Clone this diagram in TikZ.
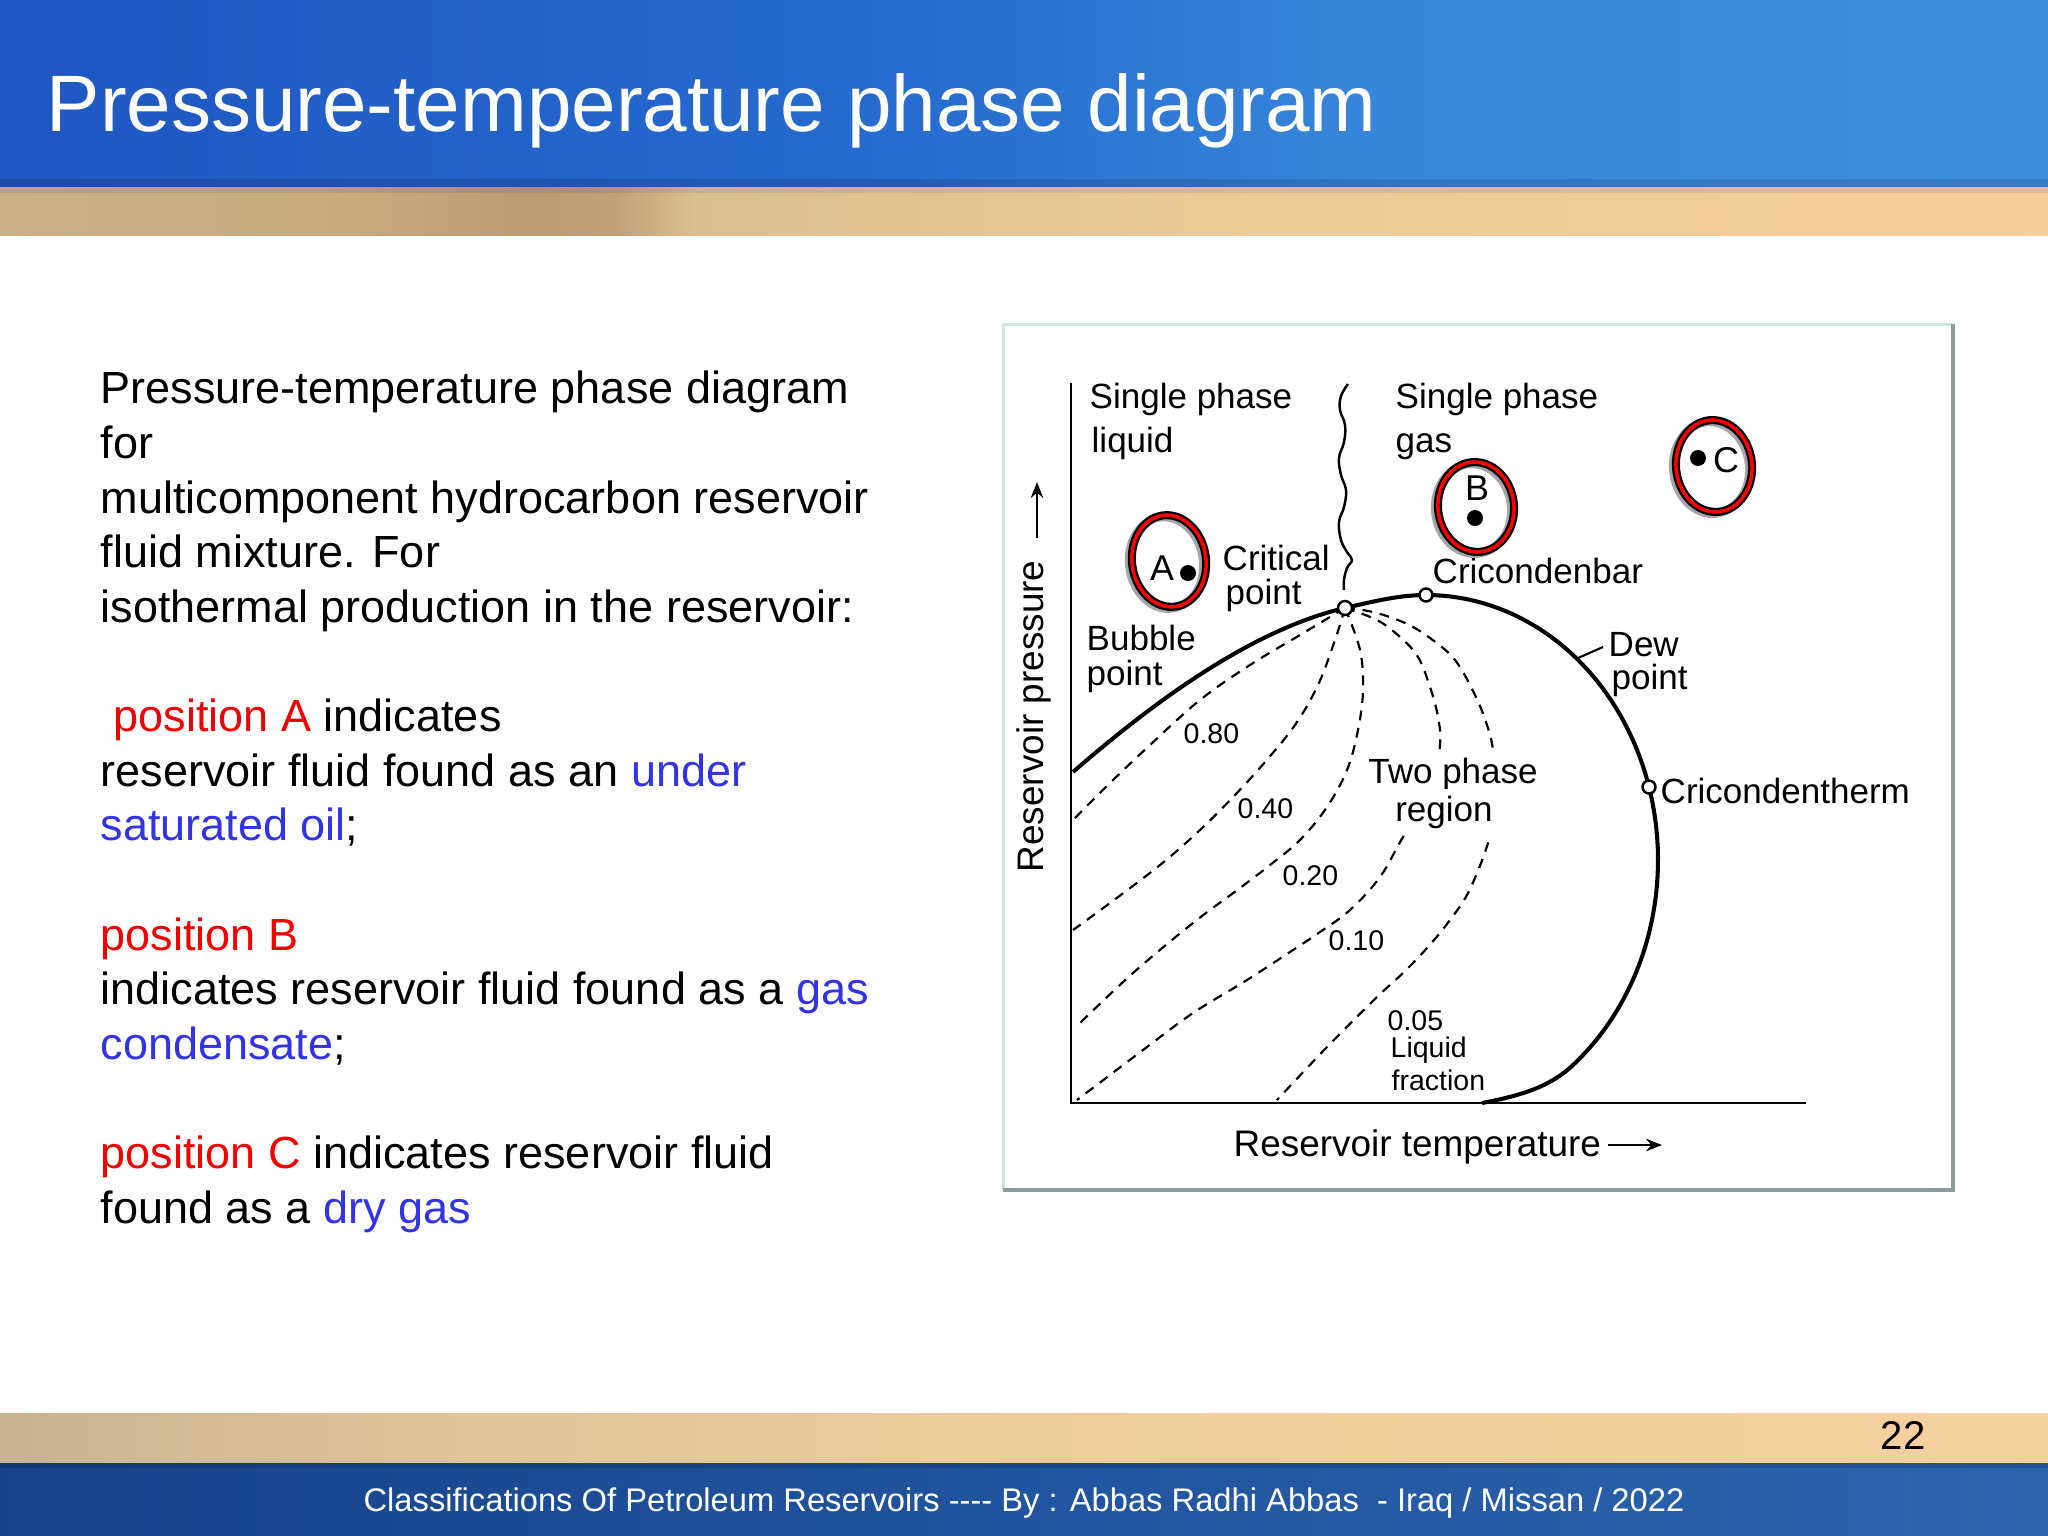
\documentclass[tikz,border=0pt]{standalone}
\usepackage{fontspec}
\setmainfont{Liberation Sans}
\usetikzlibrary{arrows.meta}
\definecolor{posred}{RGB}{240,0,0}
\definecolor{posblue}{RGB}{51,51,230}
\definecolor{framelight}{RGB}{208,228,226}
\definecolor{framedark}{RGB}{140,156,156}
\newcommand{\fsz}[1]{\fontsize{#1}{#1}\selectfont}
% stops are placed in 25bp..75bp, the part of a shading that covers the path
\pgfdeclarehorizontalshading{titlebar}{100bp}{rgb(0bp)=(0.12,0.34,0.76); rgb(25bp)=(0.12,0.34,0.76); rgb(47bp)=(0.15,0.42,0.81); rgb(59bp)=(0.22,0.53,0.86); rgb(75bp)=(0.24,0.56,0.86); rgb(100bp)=(0.24,0.56,0.86)}
\pgfdeclarehorizontalshading{tanband}{100bp}{rgb(0bp)=(0.80,0.69,0.53); rgb(25bp)=(0.80,0.69,0.53); rgb(33bp)=(0.79,0.67,0.50); rgb(38bp)=(0.74,0.61,0.45); rgb(40bp)=(0.76,0.63,0.47); rgb(42bp)=(0.86,0.75,0.57); rgb(55bp)=(0.92,0.79,0.59); rgb(75bp)=(0.96,0.81,0.60); rgb(100bp)=(0.96,0.81,0.60)}
\pgfdeclarehorizontalshading{tanfoot}{100bp}{rgb(0bp)=(0.79,0.70,0.57); rgb(25bp)=(0.79,0.70,0.57); rgb(35bp)=(0.87,0.76,0.60); rgb(50bp)=(0.93,0.80,0.61); rgb(75bp)=(0.96,0.82,0.62); rgb(100bp)=(0.96,0.82,0.62)}
\pgfdeclarehorizontalshading{bluefoot}{100bp}{rgb(0bp)=(0.09,0.26,0.54); rgb(25bp)=(0.09,0.26,0.54); rgb(50bp)=(0.13,0.33,0.62); rgb(75bp)=(0.17,0.40,0.68); rgb(100bp)=(0.17,0.40,0.68)}
\begin{document}
\begin{tikzpicture}[x=0.01cm,y=-0.01cm,
  body/.style={inner sep=0pt, anchor=base west, font=\fsz{12.8pt}},
  lbl/.style={inner sep=0pt, anchor=base west, font=\fsz{9.96pt}},
  num/.style={inner sep=0pt, anchor=base west, font=\fsz{8.1pt}},
  axlbl/.style={inner sep=0pt, anchor=base west, font=\fsz{10.5pt}},
  envelope/.style={line width=1.15pt, line join=round},
  axisline/.style={line width=0.8pt},
  quality/.style={line width=0.62pt, dash pattern=on 2.8pt off 2.2pt},
  opendot/.style={draw, fill=white, line width=0.7pt},
  posmark/.style={line width=1pt, red}]
\useasboundingbox (0,0) rectangle (2048,1536);
\fill[white] (0,0) rectangle (2048,1536);
% header
\shade[shading=titlebar] (0,0) rectangle (2048,187);
\fill[black, opacity=0.12] (0,179) rectangle (2048,187);
\shade[shading=tanband] (0,187) rectangle (2048,235);
\fill[black, opacity=0.08] (0,187) rectangle (2048,193);
\node[inner sep=0pt, anchor=base west, text=white, font=\fsz{22.76pt}] (title) at (46,131) {Pressure-temperature phase diagram};
% footer
\shade[shading=tanfoot] (0,1413) rectangle (2048,1463);
\shade[shading=bluefoot] (0,1463) rectangle (2048,1536);
\fill[black, opacity=0.15] (0,1463) rectangle (2048,1468);
\node[inner sep=0pt, anchor=base, font=\fsz{11.4pt}] (pagenum) at (1903,1449) {22};
\node[inner sep=0pt, anchor=base, text=white, font=\fsz{9.3pt}] (footer) at (1024,1511) {Classifications Of Petroleum Reservoirs -\kern0pt-\kern0pt-\kern0pt- By : Abbas Radhi Abbas\ \ - Iraq / Missan / 2022};
% body text
\node[body] (t1) at (100,403) {Pressure-temperature phase diagram};
\node[body] (t2) at (100,458) {for};
\node[body] (t3) at (100,513) {multicomponent hydrocarbon reservoir};
\node[body] (t4) at (100,567) {fluid mixture. For};
\node[body] (t5) at (100,622) {isothermal production in the reservoir:};
\node[body] (t6) at (113,731) {\textcolor{posred}{position A} indicates};
\node[body] (t7) at (100,786) {reservoir fluid found as an \textcolor{posblue}{under}};
\node[body] (t8) at (100,840) {\textcolor{posblue}{saturated oil};};
\node[body] (t9) at (100,950) {\textcolor{posred}{position B}};
\node[body] (t10) at (100,1004) {indicates reservoir fluid found as a \textcolor{posblue}{gas}};
\node[body] (t11) at (100,1059) {\textcolor{posblue}{condensate};};
\node[body] (t12) at (100,1168) {\textcolor{posred}{position C} indicates reservoir fluid};
\node[body] (t13) at (100,1223) {found as a \textcolor{posblue}{dry gas}};
% diagram frame
\draw[framelight, line width=0.85pt] (1003,1190) -- (1003,324) -- (1953,324);
\draw[framedark, line width=1pt] (1953,324) -- (1953,1190) -- (1003,1190);
% axes
\coordinate (origin) at (1071,1103);
\coordinate (ytop) at (1071,383);
\coordinate (xend) at (1806,1103);
\draw[axisline] (ytop) -- (origin) -- (xend);
% quality lines
\draw[quality] plot[smooth, tension=0.6] coordinates {(1345,608) (1300,635) (1250,665) (1200,700) (1150,745) (1110,783) (1073,820)};
\draw[quality] plot[smooth, tension=0.6] coordinates {(1345,608) (1335,640) (1318,685) (1295,725) (1265,762) (1235,795) (1200,830) (1160,865) (1110,903) (1073,930)};
\draw[quality] plot[smooth, tension=0.6] coordinates {(1345,608) (1360,650) (1363,690) (1358,730) (1347,770) (1327,807) (1300,840) (1270,865) (1240,888) (1193,923) (1133,973) (1080,1023)};
\draw[quality] plot[smooth, tension=0.6] coordinates {(1345,608) (1377,620) (1400,637) (1418,657) (1430,687) (1438,717) (1440,745) (1432,790) (1403,837) (1380,877) (1350,910) (1320,932) (1293,950) (1247,980) (1193,1013) (1143,1050) (1077,1100)};
\draw[quality] plot[smooth, tension=0.6] coordinates {(1345,608) (1373,612) (1405,623) (1430,638) (1455,660) (1475,695) (1487,725) (1493,750) (1496,790) (1490,836) (1470,889) (1450,920) (1427,948) (1403,973) (1377,997) (1327,1047) (1277,1100)};
% phase envelope: bubble-point curve, then dew-point curve
\coordinate (bubfoot) at (1073,772);
\coordinate (cp) at (1345,608);
\coordinate (cbarpt) at (1426,595);
\coordinate (dewend) at (1482,1103);
\draw[envelope] (bubfoot) .. controls (1150,705) and (1250,630) .. (cp)
  .. controls (1375,601) and (1400,595) .. (cbarpt)
  -- plot[domain=90:-50, samples=70, variable=\t] ({1426+232*cos(\t)},{860-265*sin(\t)})
  .. controls (1550,1088) and (1518,1096) .. (dewend);
% wavy divider
\draw[line width=0.7pt] plot[smooth, tension=0.7] coordinates {(1348,384) (1341,396) (1340,410) (1345,425) (1344,442) (1339,458) (1341,475) (1346,490) (1344,507) (1339,522) (1341,540) (1347,552) (1352,560) (1347,568) (1344,580) (1344,590)};
% special points
\draw[opendot] (cp) circle[radius=7];
\draw[opendot] (cbarpt) circle[radius=6.5];
\draw[opendot] (1649,787) circle[radius=6.5];
% dew leader
\coordinate (dewfoot) at (1578,658);
\coordinate (dewtip) at (1603,647);
\draw[line width=0.6pt] (dewfoot) -- (dewtip);
% labels
\node[lbl] (spl1) at (1089,408) {Single phase};
\node[lbl] (spl2) at (1091,452) {liquid};
\node[lbl] (spg1) at (1395,408) {Single phase};
\node[lbl] (spg2) at (1395,452) {gas};
\node[lbl] (crit1) at (1222,570) {Critical};
\node[lbl] (crit2) at (1225,604) {point};
\node[lbl] (bub1) at (1086,650) {Bubble};
\node[lbl] (bub2) at (1086,685) {point};
\node[lbl] (cbar) at (1432,583) {Cricondenbar};
\node[lbl] (dew1) at (1608,656) {Dew};
\node[lbl] (dew2) at (1611,689) {point};
\node[lbl] (cthm) at (1660,803) {Cricondentherm};
\node[inner sep=2pt, fill=white, anchor=base, font=\fsz{9.96pt}] (two1) at (1453,783) {Two phase};
\node[inner sep=2pt, fill=white, anchor=base, font=\fsz{9.96pt}] (two2) at (1444,821) {region};
\node[num] (q80) at (1183,743) {0.80};
\node[num] (q40) at (1237,818) {0.40};
\node[num] (q20) at (1282,885) {0.20};
\node[num] (q10) at (1328,950) {0.10};
\node[num] (q05) at (1387,1030) {0.05};
\node[num] (liq) at (1390,1057) {Liquid};
\node[num] (frac) at (1391,1090) {fraction};
% axis labels
\node[axlbl] (xlab) at (1233,1156) {Reservoir temperature};
\coordinate (xarr0) at (1608,1145);
\coordinate (xarr1) at (1662,1145);
\draw[line width=0.7pt, -{Stealth[length=4.5pt, width=3.5pt]}] (xarr0) -- (xarr1);
\node[axlbl, rotate=90] (ylab) at (1043,873) {Reservoir pressure};
\coordinate (yarr0) at (1037,538);
\coordinate (yarr1) at (1037,482);
\draw[line width=0.7pt, -{Stealth[length=4.5pt, width=3.5pt]}] (yarr0) -- (yarr1);
% positions A, B, C
\foreach \cx/\cy/\rx/\ry/\rt in {1169/561/37/46/8, 1476/507/38/45/6, 1714/466/38/46/6} {
  \draw[gray!70, line width=2.3pt] (\cx-3,\cy+2) ellipse[x radius=\rx, y radius=\ry, rotate=\rt];
  \draw[black, line width=2.3pt] (\cx,\cy) ellipse[x radius=\rx, y radius=\ry, rotate=\rt];
  \draw[posmark] (\cx,\cy) ellipse[x radius=\rx, y radius=\ry, rotate=\rt];
}
\node[inner sep=0pt, font=\fsz{10.2pt}] (ltrA) at (1162,568) {A};
\fill (1188,573) circle[radius=8];
\node[inner sep=0pt, font=\fsz{10.2pt}] (ltrB) at (1477,488) {B};
\fill (1475,518) circle[radius=8];
\node[inner sep=0pt, font=\fsz{10.2pt}] (ltrC) at (1726,460) {C};
\fill (1698,458) circle[radius=8];
\end{tikzpicture}
\end{document}
